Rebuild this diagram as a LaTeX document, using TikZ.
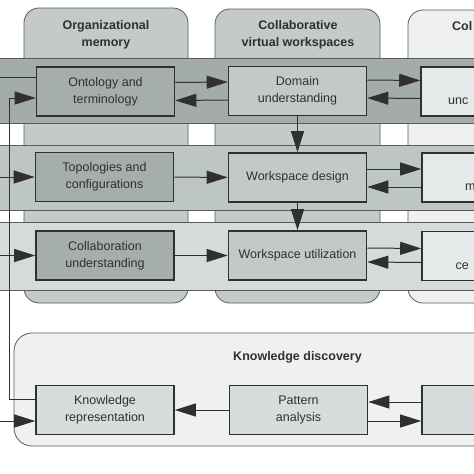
\documentclass[tikz,border=0pt]{standalone}
\usepackage{fontspec}
\setmainfont{Liberation Sans}
\usetikzlibrary{arrows.meta}

\definecolor{colgray}{HTML}{C4CACA}
\definecolor{collight}{HTML}{EEF0F0}
\definecolor{rowa}{HTML}{A3ABAB}
\definecolor{rowb}{HTML}{BEC5C5}
\definecolor{rowc}{HTML}{D5DADA}
\definecolor{boxdark}{HTML}{A5ADAD}
\definecolor{boxmid}{HTML}{C3C9C9}
\definecolor{boxlight}{HTML}{E6E9E9}
\definecolor{kdfill}{HTML}{EFF1F1}
\definecolor{kdbox}{HTML}{D8DCDC}
\definecolor{ink}{HTML}{303030}
\definecolor{edge}{HTML}{5A5A5A}

\begin{document}
\begin{tikzpicture}[x=1pt,y=-1pt,
    every node/.style={font=\fontsize{12.5}{17}\selectfont, text=ink, align=center},
    box/.style={draw=ink, line width=1.6pt, minimum width=138pt, minimum height=49pt, inner sep=0pt},
    col/.style={draw=edge, line width=0.8pt, rounded corners=15pt},
    band/.style={draw=edge, line width=0.8pt},
    title/.style={font=\fontsize{12.5}{17}\selectfont\bfseries},
    cut/.style={anchor=base west, inner sep=0pt},
    arr/.style={draw=ink, line width=1pt, -{Triangle[length=21pt,width=13pt]}},
    link/.style={draw=ink, line width=1pt}]
    \useasboundingbox (0,0) rectangle (474,474);
    \clip (0,0) rectangle (474,474);

    % 绘制列
    \draw[col, fill=colgray] (24,303) rectangle (188,8);
    \draw[col, fill=colgray] (215,303) rectangle (380,9);
    \draw[col, fill=collight] (408,303) rectangle (520,10);
    \node[title] (orgtitle) at (106,35) {Organizational\\memory};
    \node[title] (cvwtitle) at (298,35) {Collaborative\\virtual workspaces};
    \node[title, cut] (coltitle) at (452,30.5) {Col};

    % 绘制行
    \draw[band, fill=rowa] (-2,58) rectangle (476,123);
    \draw[band, fill=rowb] (-2,145) rectangle (476,210);
    \draw[band, fill=rowc] (-2,222) rectangle (476,290);
    \draw[col, rounded corners=18pt, fill=kdfill] (14,446) rectangle (520,333);
    \node[title] (kdtitle) at (297.5,357) {Knowledge discovery};

    % 方框
    \node[box, fill=boxdark] (ontol) at (105.5,91.5) {Ontology and\\terminology};
    \node[box, fill=boxmid] (domain) at (297.5,91) {Domain\\understanding};
    \node[box, fill=boxlight] (rowone) at (490,91.5) {};
    \node[box, fill=boxdark] (topo) at (104.5,177) {Topologies and\\configurations};
    \node[box, fill=boxmid] (wsdesign) at (297.5,177.5) {Workspace design};
    \node[box, fill=boxlight] (rowtwo) at (491,177.5) {};
    \node[box, fill=boxdark] (colund) at (105,255.5) {Collaboration\\understanding};
    \node[box, fill=boxmid] (wsutil) at (297.5,255.5) {Workspace utilization};
    \node[box, fill=boxlight] (rowthree) at (491,256) {};
    \node[box, fill=kdbox] (krep) at (105,410) {Knowledge\\representation};
    \node[box, fill=kdbox] (patt) at (298.5,410) {Pattern\\analysis};
    \node[box, fill=kdbox] (kdright) at (491,410) {};
    \node[cut] (onetxt) at (448,104) {unc};
    \node[cut] (twotxt) at (465,190.5) {m};
    \node[cut] (threetxt) at (455.5,269) {ce};

    % 箭头
    \draw[arr] ([yshift=9pt]ontol.east) -- ([yshift=9pt]domain.west);
    \draw[arr] ([yshift=-9pt]domain.west) -- ([yshift=-9pt]ontol.east);
    \draw[arr] ([yshift=11pt]domain.east) -- ([yshift=11pt]rowone.west);
    \draw[arr] ([yshift=-7pt]rowone.west) -- ([yshift=-7pt]domain.east);
    \draw[arr] (topo) -- (wsdesign);
    \draw[arr] ([yshift=8.5pt]wsdesign.east) -- ([yshift=8.5pt]rowtwo.west);
    \draw[arr] ([yshift=-9.5pt]rowtwo.west) -- ([yshift=-9.5pt]wsdesign.east);
    \draw[arr] (colund) -- (wsutil);
    \draw[arr] ([yshift=7.5pt]wsutil.east) -- ([yshift=7.5pt]rowthree.west);
    \draw[arr] ([yshift=-6.5pt]rowthree.west) -- ([yshift=-6.5pt]wsutil.east);
    \draw[arr] (domain.south) -- (domain.south |- wsdesign.north);
    \draw[arr] (wsdesign.south) -- (wsdesign.south |- wsutil.north);
    \draw[arr] (patt) -- (krep);
    \draw[arr] ([yshift=8pt]kdright.west) -- ([yshift=8pt]patt.east);
    \draw[arr] ([yshift=-11pt]patt.east) -- ([yshift=-11pt]kdright.west);

    % 左侧连线
    \coordinate (outone) at (0,77);
    \coordinate (intwo) at (0,177);
    \coordinate (inthree) at (0,255.5);
    \coordinate (infour) at (0,421);
    \coordinate (loopturn) at (9,98);
    \draw[link] (outone) -- (outone -| ontol.west);
    \draw[arr] (intwo) -- (topo);
    \draw[arr] (inthree) -- (colund);
    \draw[arr] (infour) -- (infour -| krep.west);
    \draw[arr] ([yshift=11pt]krep.west) -| (loopturn) -- (loopturn -| ontol.west);
\end{tikzpicture}
\end{document}
